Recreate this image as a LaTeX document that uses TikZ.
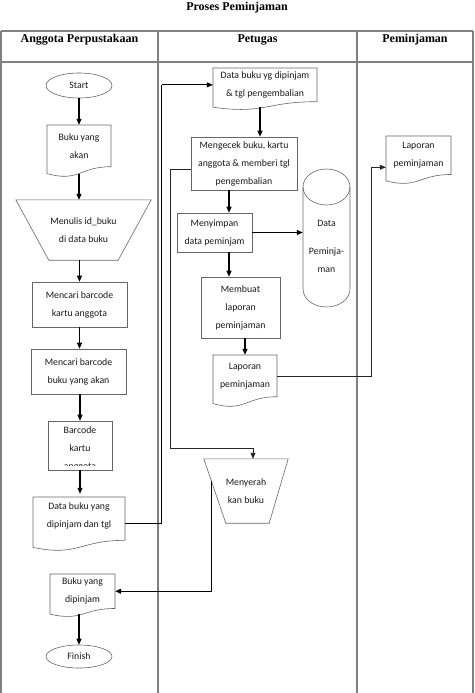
\documentclass[tikz,border=0pt]{standalone}
\usepackage{fontspec}
\setmainfont{Carlito}
\newfontfamily\hdrfont{Liberation Serif}
\usetikzlibrary{arrows.meta,calc,shapes.geometric}

\newcommand\docnode[7][]{%
  \node[txt, minimum width={#5*1pt}, minimum height={0.802*#6*1pt}, #1] (#2) at ({#3+#5/2},{#4+0.401*#6}) {#7};
  \coordinate (#2-b) at ({#3+#5/2},{#4+0.933*#6});
  \draw[box] (#3,{#4+0.934*#6}) -- (#3,#4) -- ({#3+#5},#4) -- ({#3+#5},{#4+0.802*#6})
     .. controls ({#3+0.5*#5},{#4+0.802*#6}) and ({#3+0.5*#5},{#4+1.107*#6}) .. (#3,{#4+0.934*#6});
}

\begin{document}
\begin{tikzpicture}[x=1pt,y=-1pt,
  grid/.style={draw=black!50, line width=1.1pt},
  box/.style={draw=black!60, line width=0.6pt},
  txt/.style={align=center, font=\fontsize{9.8}{18}\selectfont, inner sep=0pt, text=black!90},
  hdr/.style={font=\hdrfont\bfseries\fontsize{12}{14}\selectfont},
  arr/.style={-{Triangle[length=6pt,width=5pt]}, line width=1.1pt, black},
  con/.style={line width=0.9pt, black},
  conarr/.style={-{Triangle[length=6pt,width=5pt]}, line width=0.6pt, black!85}
]
\useasboundingbox (0,0) rectangle (474,693);

% table
\draw[grid] (1,31) -- (473,31);
\draw[grid] (1,62) -- (473,62);
\draw[grid] (1,31) -- (1,693);
\draw[grid] (158,31) -- (158,693);
\draw[grid] (357,31) -- (357,693);
\draw[grid] (473,31) -- (473,693);

\node[hdr] (title) at (237,8) {Proses Peminjaman};
\node[hdr] (h1) at (79.5,40) {Anggota Perpustakaan};
\node[hdr] (h2) at (257.5,40) {Petugas};
\node[hdr] (h3) at (415,40) {Peminjaman};

% left column
\node[box, txt, ellipse, minimum width=66pt, minimum height=25pt] (start) at (79,85.5) {Start};
\docnode{buku}{47}{125}{64}{52}{Buku yang\\akan}
\node[txt, minimum width=135pt, minimum height=60pt] (menulis) at (83.5,230) {Menulis id\_buku\\di data buku};
\draw[box] (menulis.north west) -- (menulis.north east) -- ([xshift=-33pt]menulis.south east)
   -- ([xshift=33pt]menulis.south west) -- cycle;
\node[box, txt, minimum width=95pt, minimum height=45pt] (mk) at (79.5,304.5) {Mencari barcode\\kartu anggota};
\node[box, txt, minimum width=95pt, minimum height=45pt] (mb) at (78.5,371.5) {Mencari barcode\\buku yang akan};
\node[box, minimum width=64pt, minimum height=49pt, inner sep=0pt] (bk) at (80,445.5) {};
\begin{scope}
  \clip (48,421) rectangle (112,465.5);
  \node[txt] (bkt) at (80,449) {Barcode\\kartu\\anggota};
\end{scope}
\docnode[yshift=3pt]{dbt}{33}{497}{92}{54}{Data buku yang\\dipinjam dan tgl}
\docnode{bkd}{50}{574}{65}{43}{Buku yang\\dipinjam}
\node[box, txt, ellipse, minimum width=66pt, minimum height=23pt] (finish) at (79,656.5) {Finish};

% middle column
\docnode{dbd}{213}{68}{104}{42}{Data buku yg dipinjam\\\& tgl pengembalian}
\node[box, txt, minimum width=106pt, minimum height=53pt] (me) at (244,163.5) {Mengecek buku, kartu\\anggota \& memberi tgl\\pengembalian};
\node[box, txt, minimum width=75pt, minimum height=39pt] (ms) at (214.5,232.5) {Menyimpan\\data peminjam};
\node[minimum width=47pt, minimum height=138pt, inner sep=0pt] (dp) at (326.5,238) {};
\draw[box] (303,187) -- (303,289) arc[start angle=180,end angle=360,x radius=23.5pt,y radius=18pt]
   -- (350,187) arc[start angle=0,end angle=180,x radius=23.5pt,y radius=18pt] -- cycle;
\draw[box] (303,187) arc[start angle=180,end angle=360,x radius=23.5pt,y radius=18pt];
\node[txt] (dpt) at (326.5,246) {Data\\[10pt]Peminja-\\man};
\node[box, txt, minimum width=79pt, minimum height=61pt] (mbl) at (240.5,307.5) {Membuat\\laporan\\peminjaman};
\docnode{lap}{213}{355}{64}{52}{Laporan\\peminjaman}
\node[txt, minimum width=84pt, minimum height=64pt] (my) at (246,491) {Menyerah\\kan buku};
\draw[box] (my.north west) -- (my.north east) -- ([xshift=-19pt]my.south east)
   -- ([xshift=22pt]my.south west) -- cycle;

% right column
\docnode{rlap}{386}{136}{65}{48}{Laporan\\peminjaman}

% helper coordinates
\coordinate (c1) at ([xshift=-5pt]dbd-b);
\coordinate (c2) at ([xshift=14.5pt]ms.north);
\coordinate (c3) at ([xshift=14.5pt]ms.south);
\coordinate (c4) at ([xshift=7pt,yshift=11pt]my.north);
\coordinate (c5) at ([xshift=7pt]my.north);
\coordinate (myl) at ($(my.north west)!0.34!([xshift=22pt]my.south west)$);

% arrows left
\draw[arr] (start.south) -- (start.south |- buku.north);
\draw[arr] (buku-b) -- (buku-b |- menulis.north);
\draw[arr] (mk.north |- menulis.south) -- (mk.north);
\draw[arr] (mk.south) -- (mk.south |- mb.north);
\draw[arr] (bk.north |- mb.south) -- (bk.north);
\draw[arr] (bk.south) -- (bk.south |- dbt.north);
\draw[arr] (finish.north |- bkd-b) -- (finish.north);

% connectors
\draw[con] ([yshift=-7.4pt]dbt.east) -| ([xshift=-51pt]dbd.west);
\draw[arr] ([xshift=-51pt]dbd.west) -- (dbd.west);
\draw[arr] (c1) -- (c1 |- me.north);
\draw[arr] (c2 |- me.south) -- (c2);
\draw[arr] (c3) -- (c3 |- mbl.north);
\draw[arr] (ms.east) -- (ms.east -| dp.west);
\draw[arr] (lap.north |- mbl.south) -- (lap.north);
\draw[conarr] (lap.east) -| ([xshift=-15pt,yshift=-12pt]rlap.west) -- ([yshift=-12pt]rlap.west);
\draw[conarr] ([yshift=-5.5pt]me.west) -- ++(-20pt,0) |- (c4) -- (c5);
\draw[arr] (myl) |- (bkd.east);
\end{tikzpicture}
\end{document}
